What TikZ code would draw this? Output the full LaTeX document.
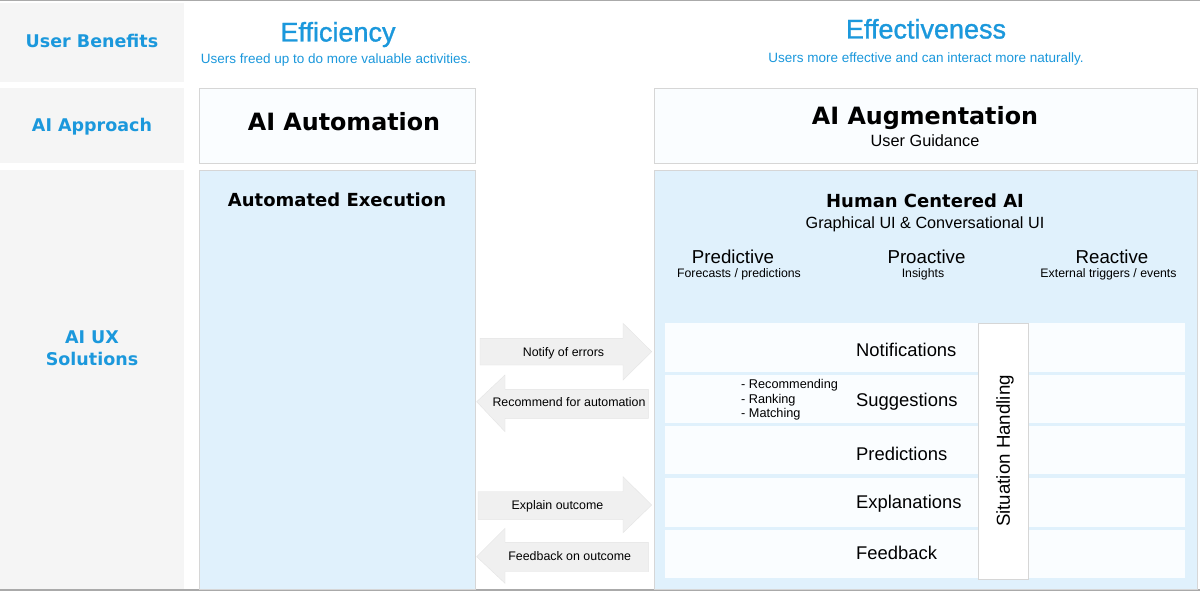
\documentclass[tikz,border=0pt]{standalone}
\usepackage{fontspec}
\setmainfont{Liberation Sans}
\newfontfamily\headfont{DejaVu Sans}
\newfontfamily\blueheadfont{Liberation Sans}[FakeBold=1.2]
\usepackage{tikz}
\usetikzlibrary{calc}

\definecolor{aiblue}{RGB}{27,152,220}
\definecolor{leftgray}{RGB}{245,245,245}
\definecolor{paneblue}{RGB}{224,241,252}
\definecolor{rowwhite}{RGB}{250,253,255}
\definecolor{boxline}{RGB}{214,214,214}
\definecolor{arrowgray}{RGB}{240,240,240}
\definecolor{frameline}{RGB}{170,170,170}

\newcommand{\fsz}[1]{\fontsize{#1}{#1}\selectfont}

\begin{document}
\begin{tikzpicture}[x=1pt, y=-1pt,
    sidebox/.style={fill=leftgray, draw=none},
    sidelbl/.style={text=aiblue, font=\headfont\bfseries\fsz{17.5}, anchor=base, inner sep=0pt},
    panebox/.style={fill=paneblue, draw=boxline},
    headbox/.style={fill=rowwhite, draw=boxline},
    rowbox/.style={fill=rowwhite, draw=none},
    arrowbox/.style={fill=arrowgray, draw=arrowgray!95!black, line width=0.4pt},
    arrowlbl/.style={font=\fsz{12.4}, anchor=base, inner sep=0pt},
    rowlbl/.style={font=\fsz{18.4}, anchor=base west, inner sep=0pt},
    bighead/.style={font=\headfont\bfseries\fsz{23.8}, anchor=base, inner sep=0pt},
    midhead/.style={font=\headfont\bfseries\fsz{18}, anchor=base, inner sep=0pt},
    benefit/.style={text=aiblue, font=\blueheadfont\fsz{27}, anchor=base, inner sep=0pt},
    benefitsub/.style={text=aiblue, font=\fsz{13.5}, anchor=base, inner sep=0pt},
    kind/.style={font=\fsz{18.7}, anchor=base, inner sep=0pt},
    kindsub/.style={font=\fsz{12.3}, anchor=base, inner sep=0pt}]
    \useasboundingbox (0,0) rectangle (1200,591);
    \fill[white] (0,0) rectangle (1200,591);

    % Moldura
    \draw[frameline, line width=1.2pt] (0,0.6) -- (1200,0.6);
    \draw[frameline, line width=1.2pt] (0,590) -- (1200,590);

    % Colunas laterais
    \fill[sidebox] (0,3) rectangle (183.5,82);
    \fill[sidebox] (0,88.5) rectangle (183.5,163);
    \fill[sidebox] (0,170) rectangle (183.5,589);
    \node[sidelbl] (benefits) at (92,47.5) {User Benefits};
    \node[sidelbl] (approach) at (92,132) {AI Approach};
    \node[sidelbl] (aiux) at (92,343) {AI UX};
    \node[sidelbl] (solutions) at (92,365.5) {Solutions};

    % Beneficios
    \node[benefit] (efficiency) at (338,41.5) {Efficiency};
    \node[benefitsub] (effsub) at (336,64) {Users freed up to do more valuable activities.};
    \node[benefit] (effective) at (926,38.5) {Effectiveness};
    \node[benefitsub] (effvsub) at (926,63) {Users more effective and can interact more naturally.};

    % Abordagem
    \filldraw[headbox] (199,88.5) rectangle (475.5,163);
    \node[bighead] (automation) at (344,130.5) {AI Automation};
    \filldraw[headbox] (654.5,88.5) rectangle (1197,163);
    \node[bighead] (augment) at (925,125) {AI Augmentation};
    \node[font=\fsz{16.3}, anchor=base, inner sep=0pt] (guidance) at (925,146.5) {User Guidance};

    % Paineis
    \filldraw[panebox] (199,170) rectangle (475.5,589);
    \node[midhead] (execution) at (337,206.5) {Automated Execution};
    \filldraw[panebox] (654.5,170) rectangle (1197,589);
    \node[midhead] (hcai) at (925,207.5) {Human Centered AI};
    \node[font=\fsz{16.2}, anchor=base, inner sep=0pt] (gui) at (925,228.3) {Graphical UI \& Conversational UI};

    \node[kind] (predictive) at (733,263.3) {Predictive};
    \node[kindsub] (forecasts) at (739,277.3) {Forecasts / predictions};
    \node[kind] (proactive) at (926.5,263.3) {Proactive};
    \node[kindsub] (insights) at (923,277.3) {Insights};
    \node[kind] (reactive) at (1112,263.3) {Reactive};
    \node[kindsub] (triggers) at (1108.5,277.3) {External triggers / events};

    % Linhas
    \fill[rowbox] (665,323.3) rectangle (1185,371.7);
    \fill[rowbox] (665,375) rectangle (1185,423.3);
    \fill[rowbox] (665,426) rectangle (1185,474.3);
    \fill[rowbox] (665,477.7) rectangle (1185,526.7);
    \fill[rowbox] (665,530) rectangle (1185,578.3);
    \node[rowlbl] (notif) at (856,356) {Notifications};
    \node[rowlbl] (suggest) at (856,406.7) {Suggestions};
    \node[rowlbl] (predict) at (856,460) {Predictions};
    \node[rowlbl] (explain) at (856,508.7) {Explanations};
    \node[rowlbl] (feedback) at (856,559) {Feedback};
    \node[font=\fsz{12.7}, anchor=base west, inner sep=0pt] (recom) at (741,388.3) {- Recommending};
    \node[font=\fsz{12.7}, anchor=base west, inner sep=0pt] (ranking) at (741,403.3) {- Ranking};
    \node[font=\fsz{12.7}, anchor=base west, inner sep=0pt] (matching) at (741,417.7) {- Matching};

    % Situation Handling
    \filldraw[fill=white, draw=boxline] (978,322.7) rectangle (1028.5,578.7);
    \node[font=\fsz{18.7}, rotate=90, inner sep=0pt] (situation) at (1005,451) {Situation Handling};

    % Setas
    \filldraw[arrowbox] (480,338.3) -- (623,338.3) -- (623,323.3) -- (651.7,351.7) -- (623,380) -- (623,365) -- (480,365) -- cycle;
    \filldraw[arrowbox] (648.3,389.3) -- (505,389.3) -- (505,375) -- (476.7,401.7) -- (505,431.7) -- (505,418.3) -- (648.3,418.3) -- cycle;
    \filldraw[arrowbox] (478,491.7) -- (623,491.7) -- (623,476.7) -- (651.7,505) -- (623,532.7) -- (623,519.3) -- (478,519.3) -- cycle;
    \filldraw[arrowbox] (648.3,542.3) -- (505,542.3) -- (505,528.3) -- (476.7,556.7) -- (505,583.3) -- (505,571.7) -- (648.3,571.7) -- cycle;
    \node[arrowlbl] (errors) at (563.5,356) {Notify of errors};
    \node[arrowlbl] (recauto) at (569,406) {Recommend for automation};
    \node[arrowlbl] (outcome) at (557.5,509) {Explain outcome};
    \node[arrowlbl] (fboutcome) at (569.7,560.7) {Feedback on outcome};
\end{tikzpicture}
\end{document}
